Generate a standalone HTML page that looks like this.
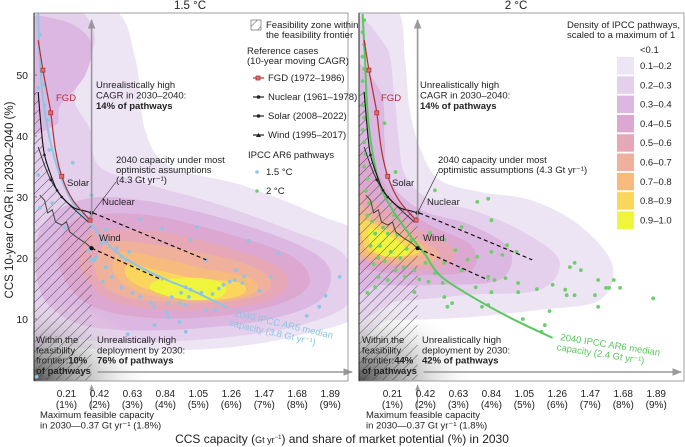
<!DOCTYPE html>
<html><head><meta charset="utf-8">
<style>
html,body{margin:0;padding:0;background:#fff;}
svg{display:block;font-family:"Liberation Sans",sans-serif;}
text{fill:#222;}
</style></head>
<body>
<svg id="chart" width="685" height="447" viewBox="0 0 685 447" xmlns="http://www.w3.org/2000/svg">
<defs>
  <clipPath id="clipL"><rect x="34" y="13" width="314" height="368"/></clipPath>
  <clipPath id="clipR"><rect x="359" y="13" width="325" height="368"/></clipPath>
  <pattern id="hatch" patternUnits="userSpaceOnUse" width="7" height="7" patternTransform="rotate(45)">
    <line x1="0" y1="0" x2="0" y2="7" stroke="#333" stroke-width="0.8"/>
  </pattern>
  <radialGradient id="grayL" gradientUnits="userSpaceOnUse" cx="34" cy="381" r="120" gradientTransform="translate(34 381) scale(1 0.7) translate(-34 -381)">
    <stop offset="0" stop-color="#444" stop-opacity="0.95"/>
    <stop offset="0.45" stop-color="#999" stop-opacity="0.6"/>
    <stop offset="1" stop-color="#fff" stop-opacity="0"/>
  </radialGradient>
  <radialGradient id="grayR" gradientUnits="userSpaceOnUse" cx="359" cy="381" r="120" gradientTransform="translate(359 381) scale(1 0.7) translate(-359 -381)">
    <stop offset="0" stop-color="#444" stop-opacity="0.95"/>
    <stop offset="0.45" stop-color="#999" stop-opacity="0.6"/>
    <stop offset="1" stop-color="#fff" stop-opacity="0"/>
  </radialGradient>
  <marker id="arrowHead" viewBox="0 0 10 10" refX="9" refY="5" markerWidth="6" markerHeight="6" orient="auto">
    <path d="M0,1 L10,5 L0,9 z" fill="#999"/>
  </marker>
</defs>
<g id="layerL" clip-path="url(#clipL)"></g>
<g id="layerR" clip-path="url(#clipR)"></g>
<g id="overlay"></g>

<rect x="34" y="13" width="314" height="368" fill="none" stroke="#888" stroke-width="0.8"/>
<rect x="359" y="13" width="325" height="368" fill="none" stroke="#888" stroke-width="0.8"/>
<line x1="34" y1="13" x2="34" y2="381" stroke="#222" stroke-width="1"/>
<line x1="359" y1="13" x2="359" y2="381" stroke="#222" stroke-width="1"/>

<text x="190" y="9" font-size="11.5" text-anchor="middle">1.5 °C</text>
<text x="516" y="9" font-size="11.5" text-anchor="middle">2 °C</text>

<text transform="translate(13,200) rotate(-90)" font-size="11.5" text-anchor="middle">CCS 10-year CAGR in 2030–2040 (%)</text>
<text x="342" y="443" font-size="12" text-anchor="middle">CCS capacity (<tspan font-size="9">Gt yr</tspan><tspan font-size="6" dy="-4">−1</tspan><tspan dy="4">) and share of market potential (%) in 2030</tspan></text>

<g id="yTicks"></g>
<g id="xTicks"></g>

<g font-size="9.5">
  <text x="96" y="88">Unrealistically high<tspan x="96" dy="10.5">CAGR in 2030–2040:</tspan><tspan x="96" dy="10.5" font-weight="bold">14% of pathways</tspan></text>
  <text x="116" y="163">2040 capacity under most<tspan x="116" dy="10">optimistic assumptions</tspan><tspan x="116" dy="10">(4.3 Gt yr⁻¹)</tspan></text>
  <line x1="116" y1="182" x2="93" y2="212" stroke="#222" stroke-width="0.6"/>
  <text x="56" y="101" style="fill:#b03030">FGD</text>
  <text x="67" y="186">Solar</text>
  <text x="102" y="205">Nuclear</text>
  <text x="99" y="241">Wind</text>
  <text x="36" y="343">Within the<tspan x="36" dy="10.3">feasibility</tspan><tspan x="36" dy="10.3">frontier:</tspan><tspan font-weight="bold">10%</tspan><tspan x="36" dy="10.3" font-weight="bold">of pathways</tspan></text>
  <text x="97" y="343">Unrealistically high<tspan x="97" dy="10.3">deployment by 2030:</tspan><tspan x="97" dy="10.3" font-weight="bold">76% of pathways</tspan></text>
  <text transform="translate(234,316) rotate(13)" style="fill:#8cc6e4">2040 IPCC AR6 median<tspan x="-3" dy="10.5">capacity (3.8 Gt yr⁻¹)</tspan></text>

  <text x="420" y="88">Unrealistically high<tspan x="420" dy="10.5">CAGR in 2030–2040:</tspan><tspan x="420" dy="10.5" font-weight="bold">14% of pathways</tspan></text>
  <text x="438" y="163">2040 capacity under most<tspan x="438" dy="10">optimistic assumptions (4.3 Gt yr⁻¹)</tspan></text>
  <line x1="438" y1="172" x2="418" y2="212" stroke="#222" stroke-width="0.6"/>
  <text x="381" y="101" style="fill:#b03030">FGD</text>
  <text x="392" y="186">Solar</text>
  <text x="427" y="205">Nuclear</text>
  <text x="423" y="241">Wind</text>
  <text x="362" y="343">Within the<tspan x="362" dy="10.3">feasibility</tspan><tspan x="362" dy="10.3">frontier:</tspan><tspan font-weight="bold">44%</tspan><tspan x="362" dy="10.3" font-weight="bold">of pathways</tspan></text>
  <text x="422" y="343">Unrealistically high<tspan x="422" dy="10.3">deployment by 2030:</tspan><tspan x="422" dy="10.3" font-weight="bold">42% of pathways</tspan></text>
  <text transform="translate(560,340) rotate(9)" style="fill:#5cc760">2040 IPCC AR6 median<tspan x="-2" dy="10.5">capacity (2.4 Gt yr⁻¹)</tspan></text>

  <text x="40" y="418">Maximum feasible capacity<tspan x="40" dy="10.5">in 2030—0.37 Gt yr⁻¹ (1.8%)</tspan></text>
  <text x="366" y="418">Maximum feasible capacity<tspan x="366" dy="10.5">in 2030—0.37 Gt yr⁻¹ (1.8%)</tspan></text>
</g>

<g font-size="9.5">
  <rect x="251" y="20" width="10" height="10" fill="url(#hatch)" stroke="#555" stroke-width="0.6"/>
  <text x="266" y="28">Feasibility zone within<tspan x="266" dy="10">the feasibility frontier</tspan></text>
  <text x="247" y="54">Reference cases<tspan x="247" dy="10">(10-year moving CAGR)</tspan></text>
  <g><line x1="253" y1="78" x2="264" y2="78" stroke="#b03030" stroke-width="1.2"/><rect x="256" y="76" width="4" height="4" fill="#e07070" stroke="#b03030" stroke-width="0.8"/><text x="268" y="81">FGD (1972–1986)</text></g>
  <g><line x1="253" y1="97" x2="264" y2="97" stroke="#222" stroke-width="1.2"/><circle cx="258.5" cy="97" r="1.8" fill="#222"/><text x="268" y="100">Nuclear (1961–1978)</text></g>
  <g><line x1="253" y1="116" x2="264" y2="116" stroke="#222" stroke-width="1.2"/><circle cx="258.5" cy="116" r="1.8" fill="#222"/><text x="268" y="119">Solar (2008–2022)</text></g>
  <g><line x1="253" y1="135" x2="264" y2="135" stroke="#222" stroke-width="1.2"/><path d="M256,137 L258.5,133 L261,137z" fill="#222"/><text x="268" y="138">Wind (1995–2017)</text></g>
  <text x="248" y="158">IPCC AR6 pathways</text>
  <g><circle cx="257" cy="172" r="1.8" fill="#8cc6e4"/><text x="266" y="175">1.5 °C</text></g>
  <g><circle cx="257" cy="191" r="1.8" fill="#6ccf6c"/><text x="266" y="194">2 °C</text></g>
</g>

<g id="densityLegend" font-size="9.5">
  <text x="567" y="28">Density of IPCC pathways,<tspan x="567" dy="10">scaled to a maximum of 1</tspan></text>
  <text x="640" y="53">&lt;0.1</text>
</g>
</svg>

<script>
const xTickValues=[0.21,0.42,0.63,0.84,1.05,1.26,1.47,1.68,1.89];
const xTickShares=['(1%)','(2%)','(3%)','(4%)','(5%)','(6%)','(7%)','(8%)','(9%)'];
const yTickValues=[10,20,30,40,50];
const densityLabels=['0.1–0.2','0.2–0.3','0.3–0.4','0.4–0.5','0.5–0.6','0.6–0.7','0.7–0.8','0.8–0.9','0.9–1.0'];
const densityColors=['#ede4f4','#e4cfec','#dcb7e1','#dca7d0','#e6a8b6','#efb09c','#f6bb7d','#fbd65d','#eff53c'];

const contoursL=[
 [[-0.1,61],[0.49,61],[0.65,52.5],[0.71,41],[0.87,35],[1.32,32],[1.82,27],[2.1,23],[2.1,11.5],[1.7,7.4],[1.19,5.2],[0.61,4.9],[0.17,5.7],[-0.1,8]],
 [[-0.1,61],[0.26,61],[0.39,56.5],[0.33,51],[0.26,46],[0.36,41],[0.42,35],[0.74,32],[1.19,28.7],[1.63,24.6],[1.98,20.5],[2.02,13],[1.7,9],[1.19,6.9],[0.61,6.2],[0.17,7],[-0.1,9]],
 [[0.3,29.5],[0.68,29.5],[1.19,26.6],[1.7,22],[1.89,18],[1.82,13],[1.51,10],[1.06,8.5],[0.55,8.2],[0.23,9.8],[0.04,14.8],[0.04,24.6]],
 [[0.36,27],[0.74,27],[1.19,24.3],[1.63,20.5],[1.76,16.4],[1.63,13.1],[1.25,10.7],[0.74,10.2],[0.36,12.3],[0.17,18],[0.2,24.6]],
 [[0.42,24.6],[0.81,24.3],[1.25,21.6],[1.57,18.4],[1.6,14.8],[1.38,12.3],[0.87,11.5],[0.49,13.1],[0.3,18],[0.33,23]],
 [[0.49,22.6],[0.87,21.8],[1.32,19.3],[1.51,16.4],[1.41,13.6],[1.0,12.6],[0.55,13.9],[0.39,18]],
 [[0.55,21],[0.81,20],[1.06,18.4],[1.38,16.7],[1.41,14.4],[1.19,13.1],[0.74,13.9],[0.52,17.2]],
 [[0.61,18.9],[0.84,17.7],[1.03,16.7],[1.32,15.9],[1.32,13.9],[1.06,13.1],[0.74,14.8],[0.6,16.7]],
 [[0.81,16.4],[1.06,16.7],[1.22,15.6],[1.19,13.6],[1.0,13.1],[0.81,14.1],[0.74,15.2]]
];
const contourLTopBlob=[[-0.1,58],[0.17,59],[0.36,55.7],[0.33,50],[0.17,45],[0.14,41.8],[-0.1,41.3]];
const contoursR=[
 [[-0.1,61],[0.23,61],[0.29,52.5],[0.32,44.3],[0.39,37.7],[0.51,32.8],[0.77,30.8],[1.09,29.5],[1.4,25.4],[1.61,18.9],[1.53,13.1],[1.15,11.5],[0.64,10.2],[0.19,9.8],[-0.1,9.8]],
 [[-0.1,57],[0.16,55],[0.22,47],[0.25,39.3],[0.29,33.6],[0.45,29.5],[0.71,27.9],[1.02,24.6],[1.27,19.7],[1.15,14.8],[0.71,14],[0.26,13],[-0.1,13]],
 [[-0.1,50.5],[0.13,47.5],[0.16,39.3],[0.19,32.8],[0.39,27.9],[0.71,25.4],[0.96,21.3],[0.89,16.4],[0.51,15.6],[0.13,15.6],[-0.1,16.4]],
 [[-0.1,39.3],[0.1,34.4],[0.23,29.5],[0.45,25.4],[0.71,22.1],[0.71,18],[0.39,17.2],[0.07,18],[-0.1,19.7]],
 [[-0.1,32.8],[0.13,28.7],[0.39,24.6],[0.61,21.3],[0.51,18.4],[0.26,18.4],[0.02,20.5]],
 [[-0.1,29.5],[0.16,26.2],[0.39,23],[0.51,20.5],[0.39,18.9],[0.13,19.3],[-0.1,21.3]],
 [[-0.1,27.9],[0.19,24.9],[0.42,21.6],[0.32,19.7],[0.1,20],[-0.1,22.1]],
 [[0.02,26.2],[0.23,23.8],[0.39,21.3],[0.26,20.2],[0.07,21],[0.02,23]],
 [[0.07,24.9],[0.23,23],[0.32,20.8],[0.16,20.3],[0.07,22.1]]
];

const fgdCurve=[[0.03,55.7],[0.06,50.8],[0.09,46.7],[0.11,43.8],[0.14,37.7],[0.18,33.4],[0.25,29.5],[0.36,26.2]];
const fgdMarkerIdx=[1,3,5,7];
const nuclearCurve=[[0.03,47.2],[0.05,41],[0.07,36.9],[0.11,33.6],[0.15,31.1],[0.2,29.5],[0.26,28.2],[0.33,27.7],[0.37,27.4]];
const solarCurve=[[0.03,38.2],[0.07,35.2],[0.11,32.8],[0.14,31.5],[0.18,30],[0.23,28.7],[0.28,27.5],[0.35,25.9]];
const windCurve=[[0.04,30.3],[0.07,29.5],[0.09,27.4],[0.12,27.9],[0.14,25.9],[0.18,25.4],[0.21,25.9],[0.23,24.3],[0.28,23.3],[0.33,22.5],[0.37,21.6]];
const nuclearExtension=[[0.38,27.4],[1.1,19.7]];
const windExtension=[[0.37,21.6],[0.82,16.4]];
const feasibleCap=0.37;

const medianL=[[0.03,60.2],[0.04,52.5],[0.07,44.3],[0.12,37.7],[0.18,32.8],[0.26,28.7],[0.37,25.4],[0.49,21.8],[0.65,18.9],[0.85,16.4],[1.0,14.8],[1.24,11.8]];
const medianR=[[0.02,60],[0.035,52.5],[0.05,44.3],[0.08,37.7],[0.13,32],[0.21,27.9],[0.32,23.8],[0.42,20.5],[0.51,17.2],[0.7,13.9],[0.96,10.2],[1.23,6.9]];

const pts15=[[0.25,35.6],[0.37,30.3],[0.68,26.4],[0.82,24.8],[1.04,25.1],[1.0,23],[1.37,22.8],[1.56,20.7],[1.1,19.7],[1.29,18],[1.34,17],[1.51,16.9],[1.28,16.4],[1.21,15.6],[1.95,16.9],[1.86,13.8],[1.82,12],[1.74,10.5],[0.97,15.2],[1.0,14.8],[1.07,14.3],[0.94,14.3],[0.88,13.6],[0.99,13.6],[0.86,12.6],[0.93,12.6],[0.97,12.3],[0.75,12.6],[0.77,12],[0.85,11],[0.86,10.3],[0.93,9.5],[0.77,9],[0.97,7.9],[0.68,13.6],[0.63,14.3],[0.56,15.2],[0.5,16.9],[0.46,18.5],[0.44,16.1],[0.39,19.7],[0.35,21.3],[0.4,20.2],[0.37,19.7],[0.53,21.6],[0.56,20.2],[0.59,19.7],[0.61,21],[0.46,24.6],[0.43,22.5],[1.1,11.5],[1.16,11.5],[1.25,16.1],[1.33,15.9],[0.04,56.6],[0.05,50.8],[0.03,47.9],[0.07,48.4],[0.07,45.1],[0.09,42.6],[0.1,37.7],[0.03,33.6],[0.04,28.2],[0.12,29],[0.2,25],[0.6,7.5],[0.02,0.5],[1.44,14.6],[1.14,14.1],[1.18,15]];
const pts2=[[0.24,23.8],[0.33,23],[0.45,24.1],[0.54,23],[0.65,25.1],[0.61,21.3],[0.75,20.2],[0.84,21],[0.91,20.5],[0.94,22.1],[1.0,21],[0.69,19.7],[0.65,18],[0.54,19.2],[0.48,17.5],[0.42,19.2],[0.35,18],[0.29,16.9],[0.23,18],[0.18,16.4],[0.12,16.9],[0.1,15.2],[0.05,14.3],[0.35,14.4],[0.44,16.1],[0.53,15.9],[0.54,13.6],[0.59,12.6],[0.74,15.2],[0.82,16.9],[0.86,16.4],[0.93,16.7],[1.01,15.9],[0.84,14.4],[0.78,12],[0.82,12.3],[1.01,14.4],[1.13,14.9],[1.23,15.6],[1.31,14.8],[1.37,13.9],[1.5,13.9],[1.52,16.4],[1.57,15.1],[1.59,15.1],[1.66,15.1],[1.62,16.4],[1.41,18],[1.37,19.2],[1.34,18.5],[1.52,12],[1.87,13.4],[1.32,13.9],[1.21,11.3],[1.04,10],[1.18,9],[1.16,7.9],[0.56,12],[0.75,29.2],[0.82,29.7],[0.84,26.2],[0.48,31.1],[0.23,34.1],[0.16,42.1],[0.03,59],[0.02,57],[0.03,55],[0.02,53],[0.03,51],[0.02,49],[0.03,47],[0.02,45],[0.03,43],[0.02,41],[0.03,39],[0.04,37],[0.03,35],[0.05,33],[0.04,31],[0.06,29],[0.05,27],[0.08,26],[0.1,24],[0.07,22],[0.13,22],[0.15,25],[0.12,20],[0.2,21],[0.18,24],[0.26,20],[0.3,21.5],[0.22,27],[0.09,19],[0.16,19.5],[0.28,18.5],[0.38,16.5]];

const NS='http://www.w3.org/2000/svg';
const X0L=33.5,X0R=359.5,KX=157,Y0=380,KY=6.1;
function sx(panel,v){return (panel===0?X0L:X0R)+v*KX;}
function sy(v){return Y0-v*KY;}
function mk(tag,attrs,parent){const e=document.createElementNS(NS,tag);for(const k in attrs)e.setAttribute(k,attrs[k]);parent.appendChild(e);return e;}
function smoothClosed(panel,pts){
  const p=pts.map(d=>[sx(panel,d[0]),sy(d[1])]);const n=p.length;
  let d='M'+p[0][0].toFixed(1)+','+p[0][1].toFixed(1);
  for(let i=0;i<n;i++){const p0=p[(i-1+n)%n],p1=p[i],p2=p[(i+1)%n],p3=p[(i+2)%n];
    const c1=[p1[0]+(p2[0]-p0[0])/6,p1[1]+(p2[1]-p0[1])/6],c2=[p2[0]-(p3[0]-p1[0])/6,p2[1]-(p3[1]-p1[1])/6];
    d+='C'+c1[0].toFixed(1)+','+c1[1].toFixed(1)+' '+c2[0].toFixed(1)+','+c2[1].toFixed(1)+' '+p2[0].toFixed(1)+','+p2[1].toFixed(1);}
  return d+'Z';
}
function smoothOpen(panel,pts){
  const p=pts.map(d=>[sx(panel,d[0]),sy(d[1])]);const n=p.length;
  let d='M'+p[0][0].toFixed(1)+','+p[0][1].toFixed(1);
  for(let i=0;i<n-1;i++){const p0=p[Math.max(i-1,0)],p1=p[i],p2=p[i+1],p3=p[Math.min(i+2,n-1)];
    const c1=[p1[0]+(p2[0]-p0[0])/6,p1[1]+(p2[1]-p0[1])/6],c2=[p2[0]-(p3[0]-p1[0])/6,p2[1]-(p3[1]-p1[1])/6];
    d+='C'+c1[0].toFixed(1)+','+c1[1].toFixed(1)+' '+c2[0].toFixed(1)+','+c2[1].toFixed(1)+' '+p2[0].toFixed(1)+','+p2[1].toFixed(1);}
  return d;
}
function poly(panel,pts){return pts.map((d,i)=>(i?'L':'M')+sx(panel,d[0]).toFixed(1)+','+sy(d[1]).toFixed(1)).join('');}

function drawPanel(panel,layer,contours,extraBlob,points,ptColor,median,medColor){
  contours.forEach((c,i)=>{
    const e=mk('path',{d:smoothClosed(panel,c),fill:densityColors[i]},layer);
    
    
    if(i===1&&extraBlob){const b=mk('path',{d:smoothClosed(panel,extraBlob),fill:densityColors[2]},layer);
      
      }
  });
  const g=mk('rect',{x:panel?359:34,y:13,width:panel?325:314,height:368,fill:panel?'url(#grayR)':'url(#grayL)'},layer);
  
  
  const zone=nuclearCurve.concat([[feasibleCap,0],[0,0],[0,nuclearCurve[0][1]]]);
  const h=mk('path',{d:poly(panel,zone)+'Z',fill:'url(#hatch)'},layer);
  
  
  points.forEach(p=>{const c=mk('circle',{cx:sx(panel,p[0]).toFixed(1),cy:sy(p[1]).toFixed(1),r:1.9,fill:ptColor},layer);
    
    });
  const m=mk('path',{d:smoothOpen(panel,median),fill:'none',stroke:medColor,'stroke-width':2},layer);
  
  
  [nuclearExtension,windExtension].forEach((ext,i)=>{const l=mk('path',{d:poly(panel,ext),stroke:'#111','stroke-width':1.2,'stroke-dasharray':'4,3',fill:'none'},layer);
    
    });
  const ws=mk('path',{d:poly(panel,windCurve),stroke:'#444','stroke-width':1,fill:'none'},layer);
  
  
  const so=mk('path',{d:smoothOpen(panel,solarCurve),stroke:'#333','stroke-width':1,fill:'none'},layer);
  
  
  const nu=mk('path',{d:smoothOpen(panel,nuclearCurve),stroke:'#111','stroke-width':1.1,fill:'none'},layer);
  
  
  [solarCurve,nuclearCurve].forEach(cv=>{[2,4].forEach(k=>{const c=mk('circle',{cx:sx(panel,cv[k][0]),cy:sy(cv[k][1]),r:1.3,fill:'#222'},layer);
    
    });});
  const fg=mk('path',{d:smoothOpen(panel,fgdCurve),stroke:'#b03030','stroke-width':1.2,fill:'none'},layer);
  
  
  fgdMarkerIdx.forEach(k=>{const r=mk('rect',{x:sx(panel,fgdCurve[k][0])-2,y:sy(fgdCurve[k][1])-2,width:4,height:4,fill:'#e07070',stroke:'#b03030','stroke-width':0.8},layer);
    
    });
  const last=nuclearCurve[nuclearCurve.length-1];
  const em=mk('circle',{cx:sx(panel,last[0]),cy:sy(last[1]),r:2,fill:'#111'},layer);
  
  
  const wl=windCurve[windCurve.length-1];
  const wm=mk('circle',{cx:sx(panel,wl[0]),cy:sy(wl[1]),r:2,fill:'#111'},layer);
  
  
}
drawPanel(0,document.getElementById('layerL'),contoursL,contourLTopBlob,pts15,'#8cc6e4',medianL,'#8cc6e4');
drawPanel(1,document.getElementById('layerR'),contoursR,null,pts2,'#6ccf6c',medianR,'#5cc760');

const ov=document.getElementById('overlay');
[0,1].forEach(panel=>{
  const xa=sx(panel,feasibleCap);
  const va=mk('line',{x1:xa,y1:sy(fgdCurve[fgdCurve.length-1][1])-2,x2:xa,y2:20,stroke:'#999','stroke-width':1.6,'marker-end':'url(#arrowHead)'},ov);
  
  
  const ha=mk('line',{x1:xa+6,y1:372,x2:panel?681:352,y2:372,stroke:'#999','stroke-width':1.6,'marker-end':'url(#arrowHead)'},ov);
  
  
  const fa=mk('line',{x1:xa,y1:408,x2:xa,y2:385,stroke:'#999','stroke-width':1,'marker-end':'url(#arrowHead)'},ov);
  
  
});

const yt=document.getElementById('yTicks');
yTickValues.forEach(v=>{
  const t=mk('text',{x:28,y:sy(v)+4,'font-size':10.5,'text-anchor':'end'},yt);t.textContent=v;
  
  
  mk('line',{x1:34,x2:37,y1:sy(v),y2:sy(v),stroke:'#666','stroke-width':0.8},yt);
});
const xt=document.getElementById('xTicks');
[0,1].forEach(panel=>{
  xTickValues.forEach((v,i)=>{
    const x=sx(panel,v);
    const t=mk('text',{x:x,y:397,'font-size':10,'text-anchor':'middle'},xt);t.textContent=v.toFixed(2);
    
    
    const s=mk('text',{x:x,y:408,'font-size':10,'text-anchor':'middle'},xt);s.textContent=xTickShares[i];
    
    
  });
});

const dl=document.getElementById('densityLegend');
densityLabels.forEach((lab,i)=>{
  const y=57+i*19.3;
  const r=mk('rect',{x:617,y:y,width:17,height:17.5,fill:densityColors[i]},dl);
  
  
  const t=mk('text',{x:640,y:y+12},dl);t.textContent=lab;
  
  
});
</script>
</body></html>
